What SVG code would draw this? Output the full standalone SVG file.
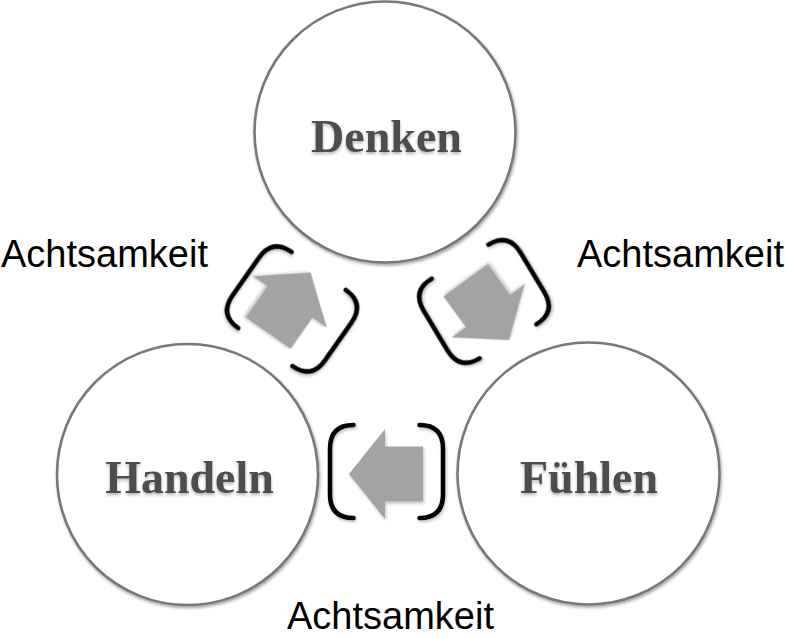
<svg xmlns="http://www.w3.org/2000/svg" width="785" height="638" viewBox="0 0 785 638">
  <defs>
    <filter id="sh" x="-20%" y="-20%" width="140%" height="140%">
      <feDropShadow dx="1" dy="2" stdDeviation="1.6" flood-color="#000" flood-opacity="0.35"/>
    </filter>
    <filter id="tsh" x="-10%" y="-20%" width="120%" height="150%">
      <feDropShadow dx="0" dy="2" stdDeviation="1.5" flood-color="#000" flood-opacity="0.3"/>
    </filter>
    <filter id="ash" x="-30%" y="-30%" width="160%" height="160%">
      <feGaussianBlur in="SourceGraphic" stdDeviation="0.7" result="b"/>
      <feDropShadow in="b" dx="1" dy="2" stdDeviation="1.5" flood-color="#000" flood-opacity="0.25"/>
    </filter>
    <path id="arrow" d="M -36,0 L 0,-45 L 0,-27.5 L 38,-27.5 L 38,27.5 L 0,27.5 L 0,45 Z"/>
    <path id="brackets" d="M -33,-46.5 Q -56.5,-46.5 -56.5,-23 V 23 Q -56.5,46.5 -33,46.5 M 33,-46.5 Q 56.5,-46.5 56.5,-23 V 23 Q 56.5,46.5 33,46.5"/>
  </defs>
  <style>
    .node circle { fill: #ffffff; stroke: #787878; stroke-width: 2.6; }
    .node text { font-family: "Liberation Serif", "Times New Roman", serif; font-weight: bold; font-size: 46px; fill: #4d4d4d; text-anchor: middle; }
    .arr { fill: #a3a3a3; }
    .brk { fill: none; stroke: #000; stroke-width: 4.5; stroke-linecap: round; }
    .lbl { font-family: "Liberation Sans", Arial, sans-serif; font-size: 38px; fill: #000; }
  </style>
  <rect width="785" height="638" fill="#ffffff"/>

  <g id="node-denken" class="node">
    <circle cx="385" cy="132" r="130.5" filter="url(#sh)"/>
    <text x="386.5" y="152" filter="url(#tsh)">Denken</text>
  </g>
  <g id="node-handeln" class="node">
    <circle cx="187.5" cy="474.5" r="130.5" filter="url(#sh)"/>
    <text x="189.5" y="493" filter="url(#tsh)">Handeln</text>
  </g>
  <g id="node-fuehlen" class="node">
    <circle cx="588.5" cy="473.5" r="131" filter="url(#sh)"/>
    <text x="589" y="493" filter="url(#tsh)">Fühlen</text>
  </g>

  <g id="connectors">
    <g id="conn-handeln-denken">
      <use href="#arrow" class="arr" filter="url(#ash)" transform="translate(290,302) rotate(125)"/>
      <use href="#brackets" class="brk" filter="url(#ash)" transform="translate(292,309) rotate(35)"/>
    </g>
    <g id="conn-denken-fuehlen">
      <use href="#arrow" class="arr" filter="url(#ash)" transform="translate(488,311) rotate(-126)"/>
      <use href="#brackets" class="brk" filter="url(#ash)" transform="translate(484,301.5) rotate(-31)"/>
    </g>
    <g id="conn-fuehlen-handeln">
      <use href="#arrow" class="arr" filter="url(#ash)" transform="translate(385,474)"/>
      <use href="#brackets" class="brk" filter="url(#ash)" transform="translate(386.5,471.5)"/>
    </g>
  </g>

  <g id="labels">
    <text class="lbl" x="1" y="267">Achtsamkeit</text>
    <text class="lbl" x="577" y="267">Achtsamkeit</text>
    <text class="lbl" x="287" y="629">Achtsamkeit</text>
  </g>
</svg>
